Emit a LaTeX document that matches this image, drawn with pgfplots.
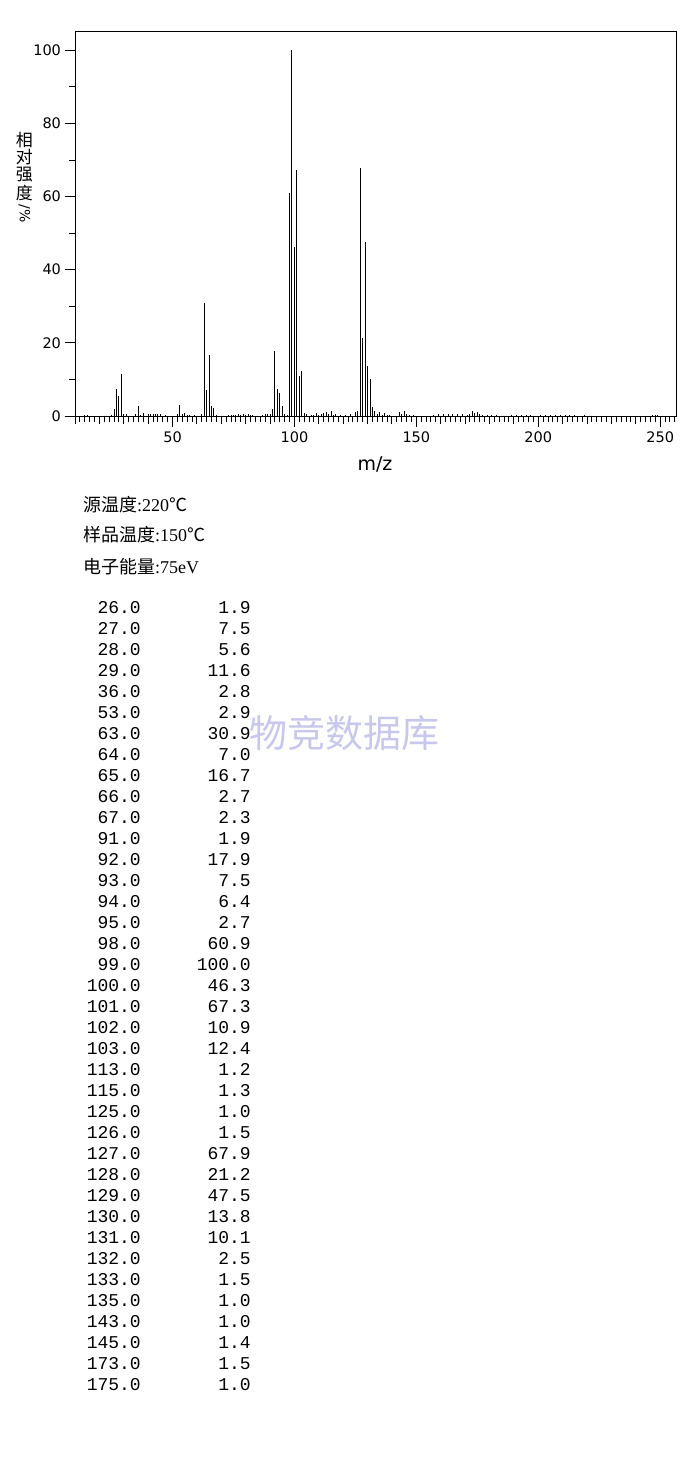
\documentclass[border=0pt]{standalone}
\usepackage{fontspec}
\usepackage{pgfplots}
\pgfplotsset{compat=1.18}
\setmainfont{Liberation Serif}
\newfontfamily\cjk{Noto Sans CJK SC}
\newfontfamily\tickfont{DejaVu Sans}
\newfontfamily\monof{Liberation Mono}
\definecolor{wm}{RGB}{200,200,236}

\begin{document}
\begin{tikzpicture}[x=1pt,y=1pt]
\path[use as bounding box, fill=white] (0,0) rectangle (687,-1474);
\begin{axis}[
  at={(75pt,-416pt)}, anchor=south west,
  scale only axis, width=601pt, height=384pt,
  xmin=10, xmax=256.5, ymin=0, ymax=105,
  axis line style={line width=1pt, black},
  tick pos=left, tick align=outside,
  xtick={50,100,150,200,250}, minor xtick={10,12,...,256},
  ytick={0,20,40,60,80,100}, minor ytick={10,30,50,70,90},
  major tick length=10.5pt, minor tick length=6pt,
  every tick/.style={line width=1pt, black},
  extra x ticks={10,20,30,40,60,70,80,90,110,120,130,140,160,170,180,190,210,220,230,240},
  extra x tick labels={},
  extra x tick style={major tick length=7.5pt},
  tick label style={font=\tickfont\fontsize{14.5}{16}\selectfont},
  xticklabel style={yshift=-1.5pt},
  /pgf/number format/assume math mode=true,
]
\addplot[ycomb, line width=1pt, black, mark=none] coordinates {
(14,0.3)(15,0.3)(25,0.4)(26,1.9)(27,7.5)(28,5.6)(29,11.6)(30,0.6)(31,0.6)(35,0.6)
(36,2.8)(37,0.3)(38,0.9)(40,0.5)(41,0.6)(42,0.6)(43,0.5)(44,0.5)(45,0.6)(47,0.3)
(52,0.6)(53,2.9)(54,0.6)(55,0.9)(56,0.4)(57,0.4)(59,0.4)(62,0.6)(63,30.9)(64,7.0)
(65,16.7)(66,2.7)(67,2.3)(68,0.4)(73,0.4)(74,0.4)(75,0.4)(76,0.4)(77,0.5)(78,0.4)
(79,0.5)(80,0.4)(81,0.6)(82,0.4)(83,0.4)(87,0.4)(88,0.6)(89,0.6)(90,0.6)
(91,1.9)(92,17.9)(93,7.5)(94,6.4)(95,2.7)(96,0.6)(97,0.4)(98,60.9)(99,100)(100,46.3)
(101,67.3)(102,10.9)(103,12.4)(104,0.8)(105,0.5)(107,0.4)(108,0.4)(109,0.8)(110,0.4)
(111,0.6)(112,0.9)(113,1.2)(114,0.6)(115,1.3)(116,0.4)(117,0.6)(119,0.4)(121,0.4)
(123,0.6)(125,1.0)(126,1.5)(127,67.9)(128,21.2)(129,47.5)(130,13.8)(131,10.1)
(132,2.5)(133,1.5)(134,0.6)(135,1.0)(136,0.4)(137,0.8)(138,0.4)(139,0.4)(143,1.0)
(144,0.6)(145,1.4)(146,0.6)(147,0.4)(149,0.4)(157,0.4)(159,0.6)(161,0.6)(163,0.6)
(165,0.6)(167,0.6)(169,0.6)(171,0.4)(172,0.6)(173,1.5)(174,0.8)(175,1.0)(176,0.6)
(177,0.4)(179,0.4)(181,0.4)(183,0.4)(189,0.3)(191,0.3)(193,0.3)(195,0.3)(197,0.3)
(201,0.3)(203,0.3)(205,0.3)(207,0.3)(209,0.3)(211,0.3)(213,0.3)(215,0.3)(219,0.3)
(247,0.3)(248,0.3)(249,0.3)
};
\end{axis}
% y label, stacked
\begin{scope}[every node/.style={font=\cjk\fontsize{17}{17}\selectfont, inner sep=0}]
\node at (24.5,-140) {相};
\node at (24.5,-157) {对};
\node at (24.5,-175) {强};
\node at (24.5,-193) {度};
\end{scope}
\node[rotate=-90, inner sep=0, font=\tickfont\fontsize{14}{14}\selectfont] at (24.5,-214) {/\%};
% x label
\node[inner sep=0, font=\tickfont\fontsize{19}{19}\selectfont] at (375,-464) {m/z};
% info lines
\begin{scope}[every node/.style={anchor=base west, inner sep=0, font=\fontsize{18}{18}\selectfont}]
\node at (83,-511) {{\cjk 源温度}:220{\cjk ℃}};
\node at (83,-541) {{\cjk 样品温度}:150{\cjk ℃}};
\node at (83,-573) {{\cjk 电子能量}:75eV};
\end{scope}
% peak table
\begin{scope}[every node/.style={anchor=base east, inner sep=0, font=\monof\fontsize{18}{18}\selectfont}]
\foreach \a/\b [count=\i from 0] in {26.0/1.9,27.0/7.5,28.0/5.6,29.0/11.6,36.0/2.8,53.0/2.9,63.0/30.9,64.0/7.0,65.0/16.7,66.0/2.7,67.0/2.3,91.0/1.9,92.0/17.9,93.0/7.5,94.0/6.4,95.0/2.7,98.0/60.9,99.0/100.0,100.0/46.3,101.0/67.3,102.0/10.9,103.0/12.4,113.0/1.2,115.0/1.3,125.0/1.0,126.0/1.5,127.0/67.9,128.0/21.2,129.0/47.5,130.0/13.8,131.0/10.1,132.0/2.5,133.0/1.5,135.0/1.0,143.0/1.0,145.0/1.4,173.0/1.5,175.0/1.0} {
  \node at (141,{-613-21*\i}) {\a};
  \node at (251,{-613-21*\i}) {\b};
}
\end{scope}
\node[text=wm, inner sep=0, font=\cjk\fontsize{38}{38}\selectfont] at (344,-733) {物竞数据库};
\end{tikzpicture}
\end{document}
